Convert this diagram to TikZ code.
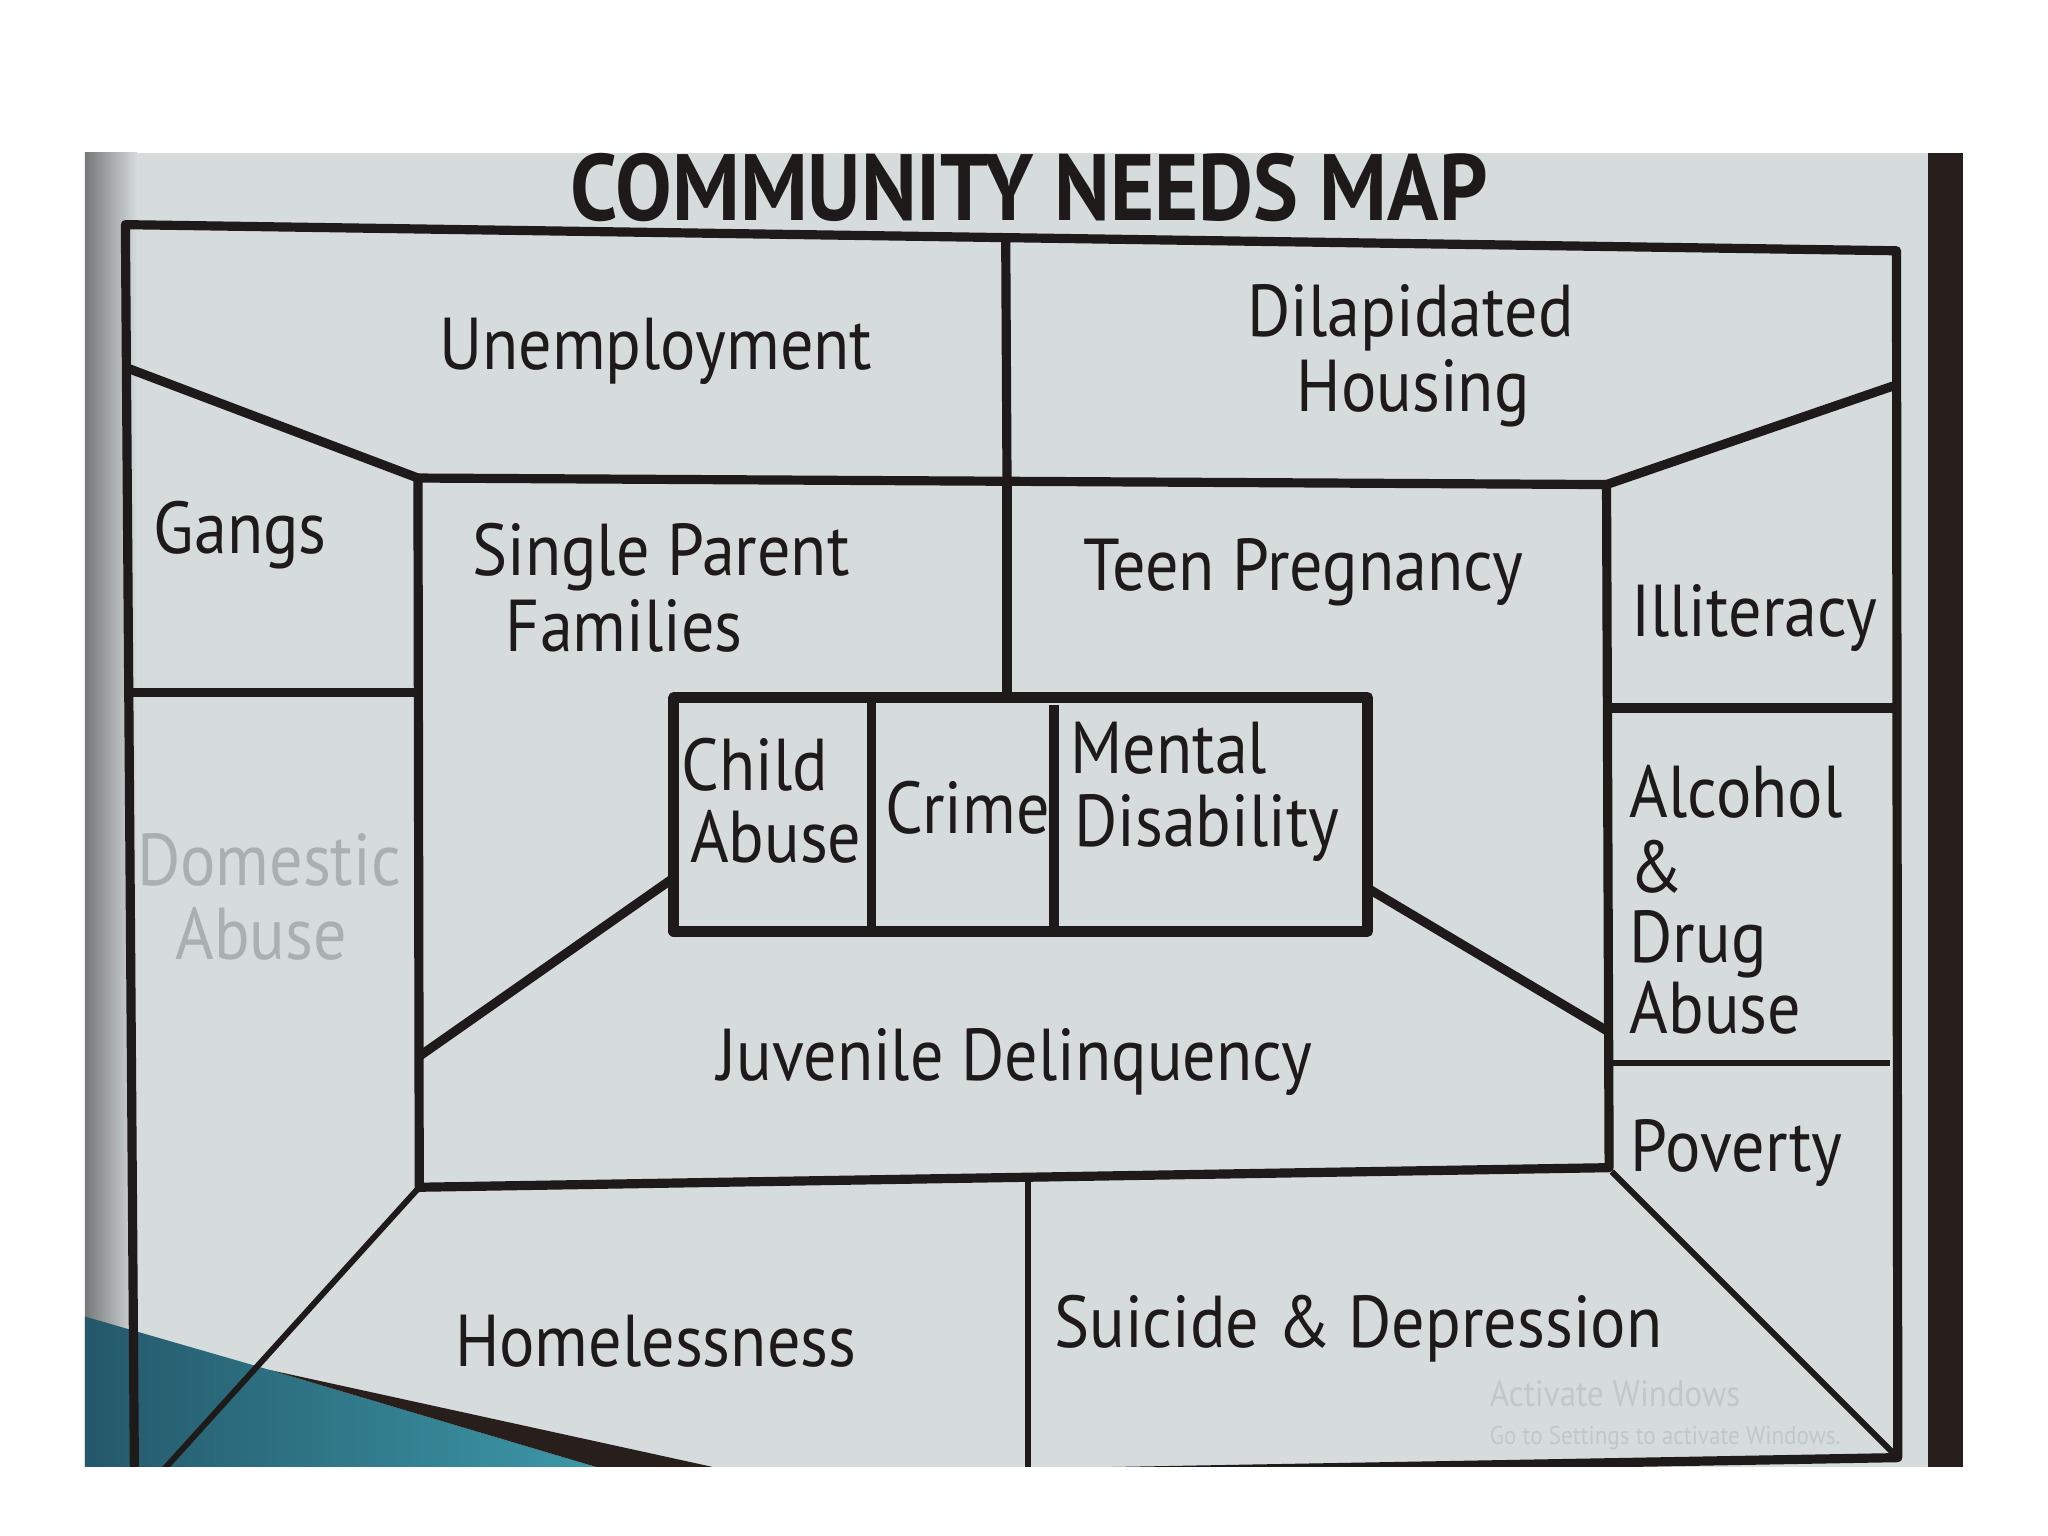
\documentclass[tikz,border=0pt]{standalone}
\usepackage{fontspec}
\setmainfont{PT Sans}[FakeStretch=0.9]
\definecolor{slidebg}{RGB}{214,219,219}
\definecolor{ink}{RGB}{30,26,26}
\definecolor{fadedink}{RGB}{170,176,176}
\definecolor{tealdark}{RGB}{36,88,106}
\definecolor{teallight}{RGB}{60,152,168}
\definecolor{screenedge}{RGB}{40,30,28}
\definecolor{watermark}{RGB}{194,199,199}
\tikzset{
	wall/.style={color=ink, line width=2pt, line join=round},
	thinwall/.style={color=ink, line width=1.3pt},
	need/.style={font=\fontsize{16}{19}\selectfont, text=ink, inner sep=0pt, anchor=base},
	needleft/.style={need, anchor=base west},
	faded/.style={need, text=fadedink},
	heading/.style={font=\fontsize{20.5}{24}\selectfont\bfseries, text=ink, inner sep=0pt, anchor=base},
	watermarktext/.style={text=watermark, inner sep=0pt, anchor=base west}
}

\begin{document}
\begin{tikzpicture}[x=0.01cm,y=-0.01cm]
	\useasboundingbox (0,0) rectangle (1568,1176);
	%%%slide
	\fill[white] (0,0) rectangle (1568,1176);
	\fill[slidebg] (65,117) rectangle (1476,1123);
	\shade[left color=slidebg!55!black, right color=slidebg] (65,117) rectangle (105,1123);
	\fill[screenedge] (1476,117) rectangle (1503,1123);
	\shade[left color=tealdark, right color=teallight] (65,1008) -- (207,1049) -- (456,1123) -- (65,1123) -- cycle;
	\fill[screenedge] (207,1049) -- (545,1123) -- (456,1123) -- cycle;

	%%%corners
	\coordinate (oTL) at (96,172);
	\coordinate (oTR) at (1452,192);
	\coordinate (oBR) at (1453,1116);
	\coordinate (oBL) at (103,1140);
	\coordinate (iTL) at (320,366);
	\coordinate (iTR) at (1230,371);
	\coordinate (iBR) at (1232,894);
	\coordinate (iBL) at (321,909);
	\coordinate (cTL) at (516,534);
	\coordinate (cTR) at (1047,534);
	\coordinate (cBR) at (1047,713);
	\coordinate (cBL) at (516,713);

	\begin{scope}
	\clip (65,117) rectangle (1476,1123);
	\draw[wall] (oTL) -- (oTR) -- (oBR) -- (oBL) -- cycle;
	\draw[wall] (iTL) -- (iTR) -- (iBR) -- (iBL) -- cycle;
	\draw[wall] (770,182) -- (771,369);
	\draw[wall] (98,282) -- (iTL);
	\draw[wall] (1451,295) -- (iTR);
	\draw[wall] (99,530) -- (320,530);
	\draw[wall] (1230,542) -- (1452,542);
	\draw[thinwall] (1231,814) -- (1447,814);
	%%%centre box
	\draw[wall, line width=2.4pt] (cTL) -- (cTR) -- (cBR) -- (cBL) -- cycle;
	\draw[wall] (667,534) -- (667,713);
	\draw[wall] (807,540) -- (807,713);
	\draw[wall] (771,369) -- (771,534);
	\draw[wall] (516,672) -- (322,808);
	\draw[wall] (1047,680) -- (1230,789);
	%%%bottom
	\draw[thinwall] (787,902) -- (787,1130);
	\draw[thinwall] (iBL) -- (112,1140);
	\draw[thinwall] (1234,897) -- (oBR);
	\end{scope}

	%%%labels
	\node[heading] (title) at (788,169) {COMMUNITY NEEDS MAP};
	\node[need] (unemp) at (502,283) {Unemployment};
	\node[need] (dilap) at (1080,258) {Dilapidated};
	\node[need] (housing) at (1082,315) {Housing};
	\node[need] (gangs) at (184,424) {Gangs};
	\node[need] (single) at (506,441) {Single Parent};
	\node[need] (families) at (478,499) {Families};
	\node[need] (teen) at (998,452) {Teen Pregnancy};
	\node[need] (illit) at (1343,487) {Illiteracy};
	\node[faded] (domestic) at (206,678) {Domestic};
	\node[faded] (domabuse) at (200,735) {Abuse};
	\node[need] (child) at (578,605) {Child};
	\node[need] (chabuse) at (594,660) {Abuse};
	\node[need] (crime) at (741,638) {Crime};
	\node[need] (mental) at (895,592) {Mental};
	\node[need] (disab) at (924,648) {Disability};
	\node[need] (juven) at (777,827) {Juvenile Delinquency};
	\node[needleft] (alcohol) at (1247,626) {Alcohol};
	\node[needleft] (amp) at (1247,683) {\&};
	\node[needleft] (drug) at (1247,737) {Drug};
	\node[needleft] (drabuse) at (1247,791) {Abuse};
	\node[needleft] (poverty) at (1248,897) {Poverty};
	\node[need] (homeless) at (502,1046) {Homelessness};
	\node[need] (suicide) at (1040,1032) {Suicide \& Depression};
	\node[watermarktext, font=\fontsize{8}{9}\selectfont] (activate) at (1140,1077) {Activate Windows};
	\node[watermarktext, font=\fontsize{5.6}{6}\selectfont] (settings) at (1140,1106) {Go to Settings to activate Windows.};
\end{tikzpicture}
\end{document}
